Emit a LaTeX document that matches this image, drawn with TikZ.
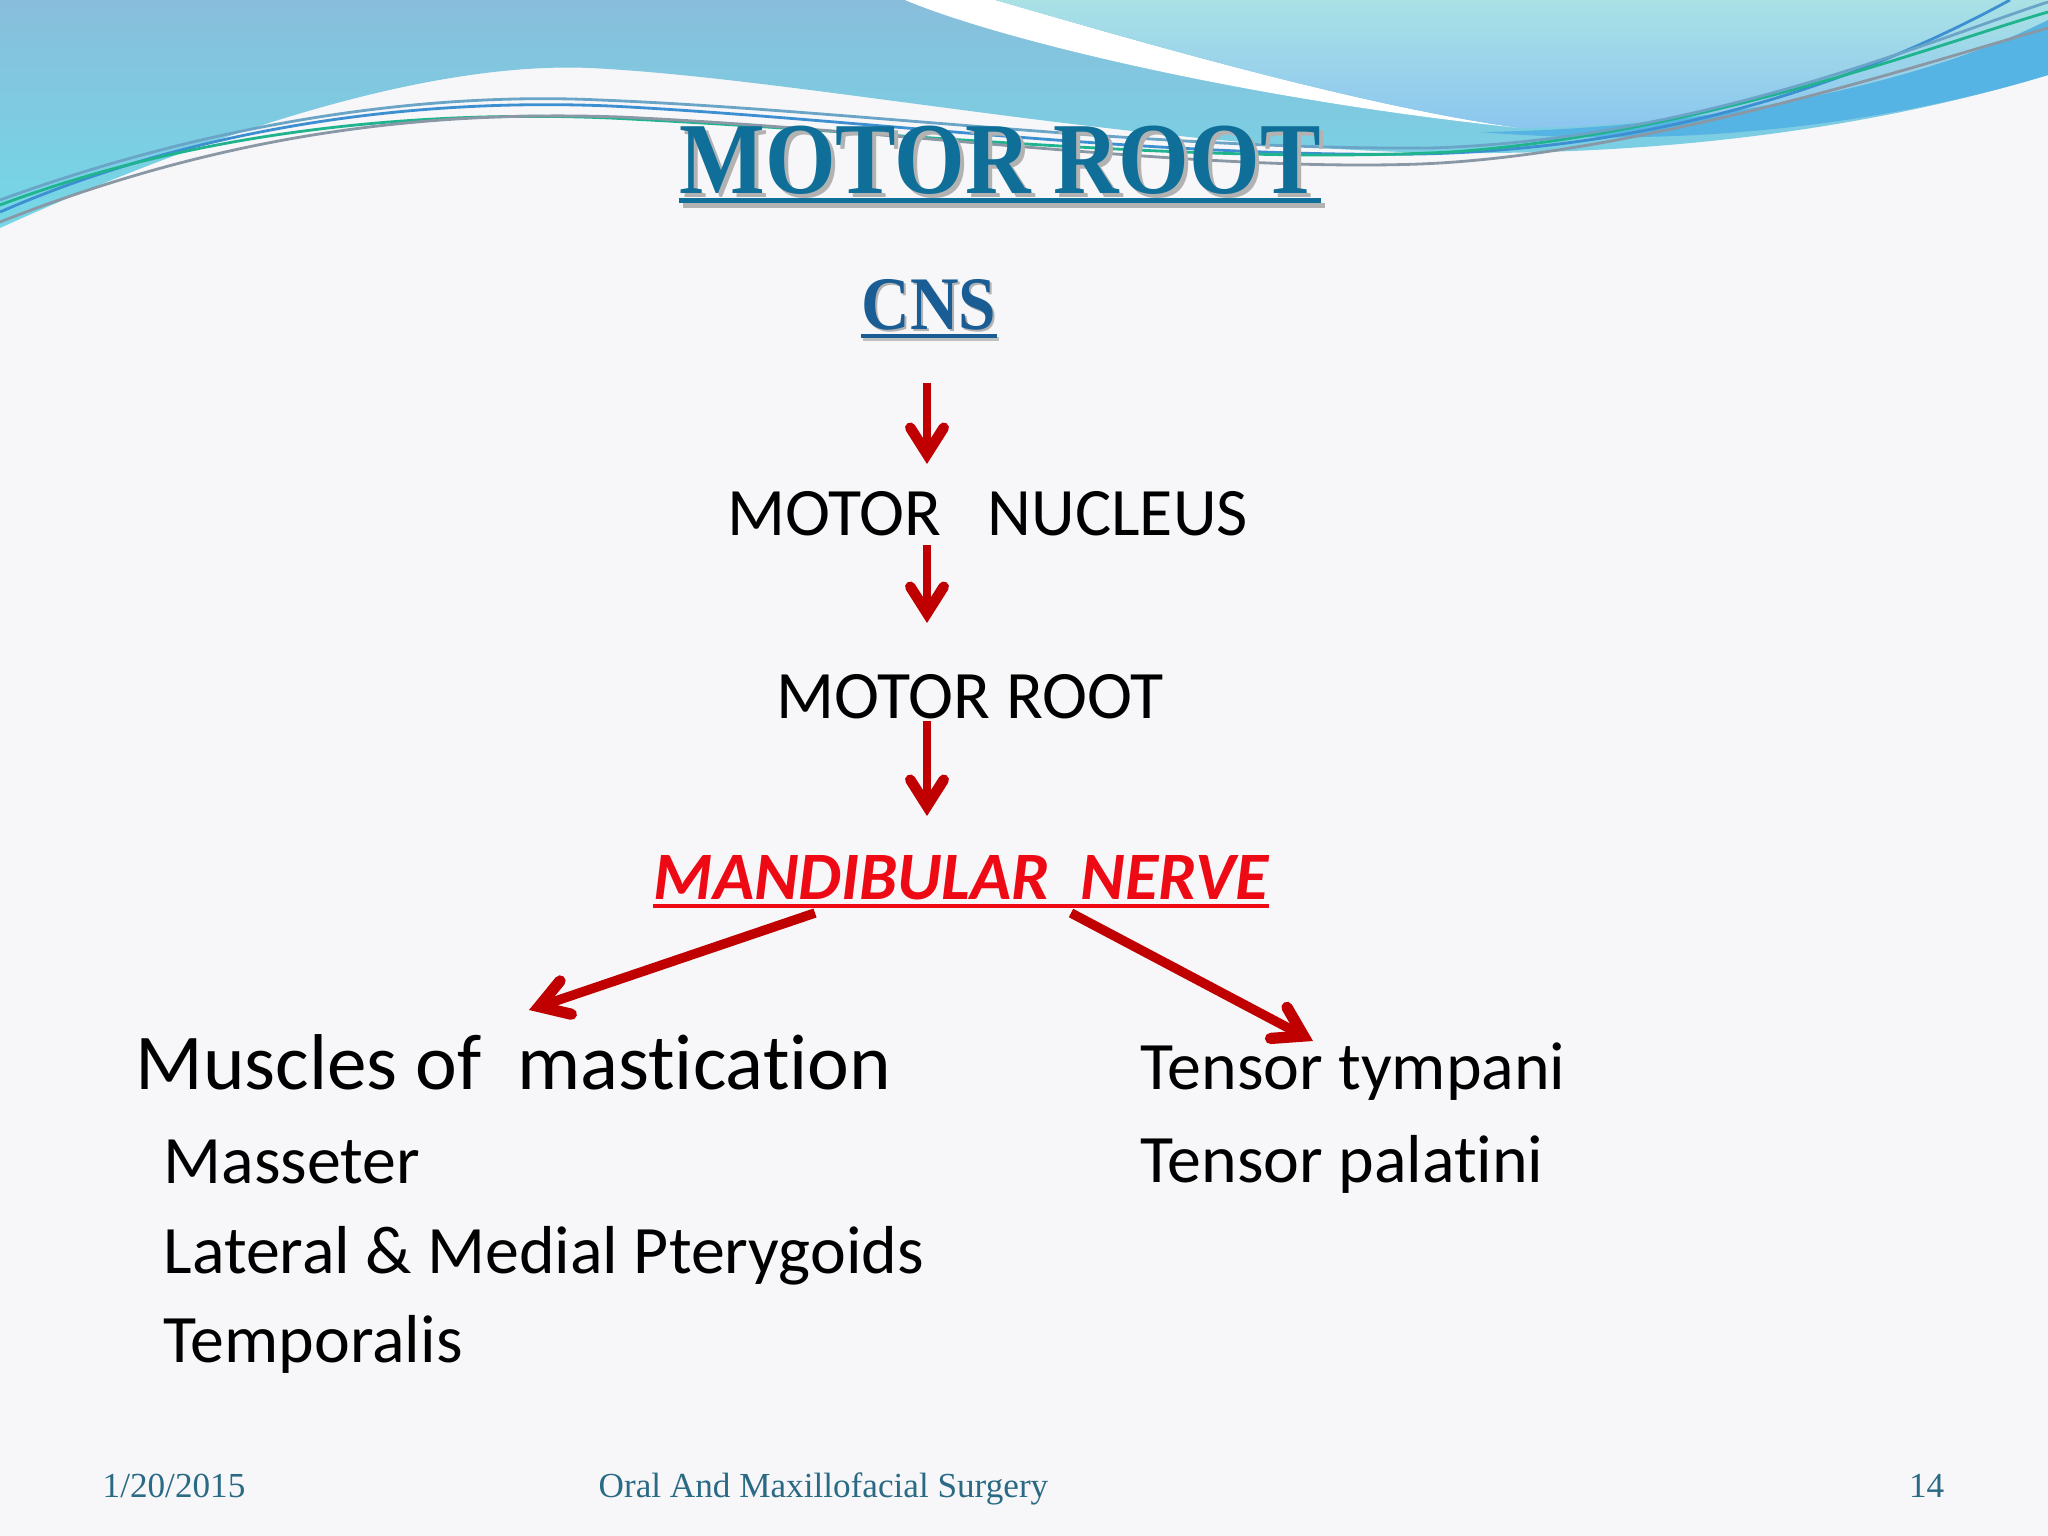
\documentclass[tikz,border=0pt]{standalone}
\usepackage{fontspec}
\setmainfont{Carlito}[Ligatures={NoCommon}]
\newfontfamily\condserif{Liberation Serif}[FakeStretch=0.89]
\newfontfamily\footserif{Liberation Serif}
\usetikzlibrary{arrows.meta,calc}
\definecolor{bgcol}{HTML}{F7F7F9}
\definecolor{bluetop}{HTML}{88BEDB}
\definecolor{bluebot}{HTML}{74D8E7}
\definecolor{cyantop}{HTML}{A9E1E5}
\definecolor{cyanbot}{HTML}{8CC6EF}
\definecolor{ribbon}{HTML}{55B4E3}
\definecolor{titlecol}{HTML}{0F6F98}
\definecolor{cnscol}{HTML}{1A5C94}
\definecolor{arrowred}{HTML}{C00000}
\definecolor{nervered}{HTML}{EE0A14}
\definecolor{footcol}{HTML}{2A6A85}
\definecolor{lteal}{HTML}{2A7FB0}
\definecolor{lgreen}{HTML}{1FB38E}
\definecolor{lgray}{HTML}{8A98A6}
\definecolor{lblue}{HTML}{3C8FD0}
\tikzset{
  body/.style={inner sep=0pt, font=\fontsize{19.3}{23}\selectfont, text=black},
  bigbody/.style={inner sep=0pt, font=\fontsize{22.5}{27}\selectfont, text=black},
  headtxt/.style={inner sep=0pt, font=\condserif\bfseries\fontsize{29}{34}\selectfont, text=titlecol},
  cnstxt/.style={inner sep=0pt, font=\condserif\bfseries\fontsize{21.5}{26}\selectfont, text=cnscol},
  shadowtxt/.style={text=black!30},
  nervetxt/.style={inner sep=0pt, font=\fontsize{19.3}{23}\selectfont\bfseries\itshape, text=nervered},
  foottxt/.style={inner sep=0pt, font=\footserif\fontsize{10}{12}\selectfont, text=footcol},
  varrow/.style={draw=arrowred, line width=2.3pt, -{Straight Barb[length=7.5pt,width=9.5pt,line width=3pt,line cap=round]}},
  darrow/.style={draw=arrowred, line width=2.7pt, -{Straight Barb[length=8pt,width=10pt,line width=3.2pt,line cap=round]}},
  wline/.style={line width=0.8pt}
}
\begin{document}
\begin{tikzpicture}[x=0.01cm,y=-0.01cm]
\useasboundingbox (0,0) rectangle (2048,1536);
\fill[bgcol] (0,0) rectangle (2048,1536);
% top decoration
\shade[top color=bluetop, bottom color=bluebot]
  (0,228) .. controls (150,160) and (400,60) .. (590,68)
  .. controls (800,78) and (1150,150) .. (1450,153)
  .. controls (1700,155) and (1900,120) .. (2048,75)
  -- (2048,0) -- (0,0) -- cycle;
\fill[white]
  (905,0) .. controls (1000,40) and (1250,100) .. (1520,128)
  .. controls (1350,105) and (1100,30) .. (995,0) -- cycle;
\shade[top color=cyantop, bottom color=cyanbot]
  (995,0) .. controls (1100,30) and (1350,105) .. (1520,128)
  .. controls (1750,125) and (1950,70) .. (2048,20) -- (2048,0) -- cycle;
\fill[ribbon]
  (1480,132) .. controls (1750,128) and (1950,70) .. (2048,20)
  -- (2048,75) .. controls (1900,120) and (1700,150) .. (1480,132) -- cycle;
\draw[wline, lblue] (0,212) .. controls (200,125) and (420,98) .. (610,106)
  .. controls (850,118) and (1150,158) .. (1420,154)
  .. controls (1700,148) and (1900,60) .. (2010,0);
\draw[wline, lgreen] (0,205) .. controls (200,130) and (420,110) .. (610,118)
  .. controls (900,132) and (1200,165) .. (1450,152)
  .. controls (1700,135) and (1950,40) .. (2048,12);
\draw[wline, lgray] (0,222) .. controls (220,135) and (420,110) .. (620,117)
  .. controls (900,130) and (1200,172) .. (1420,164)
  .. controls (1650,155) and (1950,55) .. (2048,28);
\draw[wline, lteal!70] (0,200) .. controls (220,120) and (430,92) .. (600,100)
  .. controls (850,110) and (1150,150) .. (1430,148)
  .. controls (1700,140) and (1930,40) .. (2048,2);
% title
\node[headtxt, shadowtxt, anchor=base] (titleshadow) at (1004,197) {MOTOR ROOT};
\fill[black!30] ($(titleshadow.base west)+(0,6)$) rectangle ($(titleshadow.base east)+(0,11)$);
\node[headtxt, anchor=base] (title) at (1000,193) {MOTOR ROOT};
\fill[titlecol] ($(title.base west)+(0,5)$) rectangle ($(title.base east)+(0,10)$);
% CNS
\node[cnstxt, shadowtxt, anchor=base] (cnsshadow) at (931,331) {CNS};
\fill[black!25] ($(cnsshadow.base west)+(0,6)$) rectangle ($(cnsshadow.base east)+(0,10)$);
\node[cnstxt, anchor=base] (cns) at (929,329) {CNS};
\fill[cnscol] ($(cns.base west)+(0,5)$) rectangle ($(cns.base east)+(0,9)$);
% chain
\node[body, anchor=base west] (nuc) at (727,535) {MOTOR\ \ \ NUCLEUS};
\node[body, anchor=base west] (mroot) at (776,718) {MOTOR ROOT};
\node[nervetxt, anchor=base west] (mand) at (653,899) {MANDIBULAR\ \ NERVE};
\fill[nervered] ($(mand.base west)+(0,5)$) rectangle ($(mand.base east)+(0,9)$);
\node[bigbody, anchor=base west] (musc) at (135,1089) {Muscles of\ \ mastication};
\node[body, anchor=base west] (mass) at (163,1183) {Masseter};
\node[body, anchor=base west] (pter) at (163,1273) {Lateral \& Medial Pterygoids};
\node[body, anchor=base west] (temp) at (163,1362) {Temporalis};
\node[body, anchor=base west] (tty) at (1140,1089) {Tensor tympani};
\node[body, anchor=base west] (tpal) at (1140,1182) {Tensor palatini};
% arrows
\draw[varrow] ($(cns.base)+(-2,54)$) -- ($(nuc.base west)+(200,-71)$);
\draw[varrow] ($(nuc.base west)+(200,10)$) -- ($(mroot.base west)+(151,-95)$);
\draw[varrow] ($(mroot.base west)+(151,3)$) -- ($(mand.base west)+(274,-83)$);
\draw[darrow] ($(mand.base west)+(162,14)$) -- ($(musc.base west)+(394,-79)$);
\draw[darrow] ($(mand.base west)+(418,14)$) -- ($(tty.base west)+(173,-48)$);
% footer
\node[foottxt, anchor=base west] (fdate) at (102,1497) {1/20/2015};
\node[foottxt, anchor=base west] (fmid) at (598,1497) {Oral And Maxillofacial Surgery};
\node[foottxt, anchor=base east] (fnum) at (1945,1497) {14};
\end{tikzpicture}
\end{document}
